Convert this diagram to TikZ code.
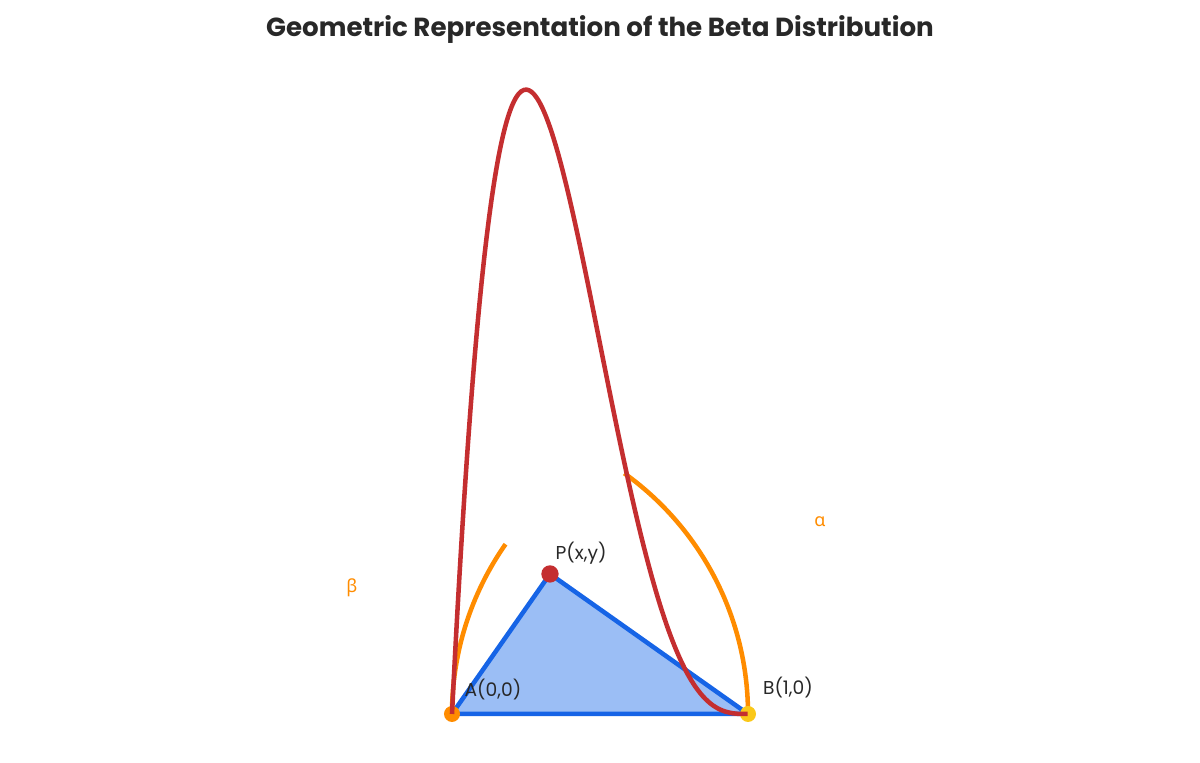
\documentclass[tikz,border=0pt]{standalone}
\usepackage{fontspec}
\setmainfont{Poppins}
\newfontfamily\greekfont{Noto Sans}
\usepackage{tikz}
\usetikzlibrary{positioning}

\definecolor{triblue}{RGB}{22,100,230}
\definecolor{trifill}{RGB}{155,190,245}
\definecolor{betared}{RGB}{196,46,48}
\definecolor{arcorange}{RGB}{255,140,0}
\definecolor{ptyellow}{RGB}{250,200,25}
\definecolor{labelgray}{RGB}{40,40,40}

\tikzset{
  side/.style={draw=triblue, line width=3.4pt, line join=round},
  anglearc/.style={draw=arcorange, line width=3.4pt},
  pdfcurve/.style={draw=betared, line width=3.4pt, line join=round},
  ptlabel/.style={text=labelgray, font=\fontsize{14}{16}\selectfont},
  anglabel/.style={text=arcorange, font=\greekfont\fontsize{13.5}{15}\selectfont}
}

\begin{document}
\begin{tikzpicture}[x=222pt,y=222pt]

\useasboundingbox (-1.527,-0.1655) rectangle (2.527,2.412);

\coordinate (A) at (0,0);
\coordinate (B) at (1,0);
\coordinate (P) at (0.331,0.473);

\node[text=labelgray, font=\bfseries\fontsize{19.6}{24}\selectfont] (title) at (0.5,2.311) {Geometric Representation of the Beta Distribution};

% triangle
\filldraw[side, fill=trifill] (A) -- (B) -- (P) -- cycle;

% angles
\draw[anglearc] (B) arc (0:54.4:1);
\draw[anglearc] (A) arc (180:145:1);

\fill[arcorange] (A) circle (6pt);
\fill[ptyellow] (B) circle (6pt);

% beta density
\draw[pdfcurve] plot[domain=0:1, samples=120, smooth] (\x, {20*\x*(1-\x)^3});

\fill[betared] (P) circle (6.5pt);

\node[ptlabel] (la) at (0.1385,0.081) {A(0,0)};
\node[ptlabel] (lb) at (1.135,0.088) {B(1,0)};
\node[ptlabel] (lp) at (0.436,0.544) {P(x,y)};

\node[anglabel] (alpha) at (1.243,0.649) {α};
\node[anglabel] (beta) at (-0.338,0.426) {β};

\end{tikzpicture}
\end{document}
